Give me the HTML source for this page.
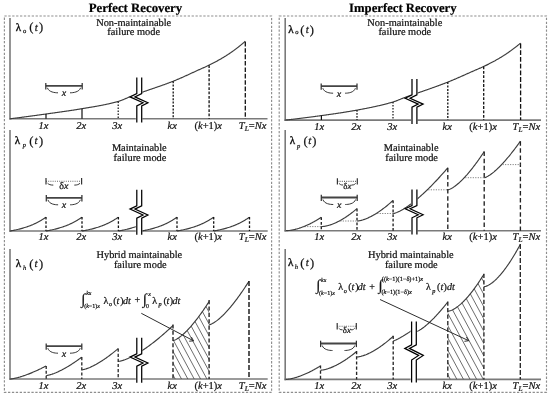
<!DOCTYPE html>
<html><head><meta charset="utf-8"><title>Perfect vs Imperfect Recovery</title>
<style>html,body{margin:0;padding:0;background:#fff;} svg{display:block;}</style>
</head><body>
<svg width="550" height="397" viewBox="0 0 550 397" font-family='"Liberation Serif", "Times New Roman", serif'>
<style>text{stroke:#111;stroke-width:0.22px;paint-order:stroke;text-rendering:geometricPrecision;}</style>
<rect width="550" height="397" fill="#fff"/>
<text x="135.5" y="11.6" font-size="12.8" text-anchor="middle" font-weight="bold" fill="#000">Perfect Recovery</text>
<text x="402.8" y="11.6" font-size="12.7" text-anchor="middle" font-weight="bold" fill="#000">Imperfect Recovery</text>
<rect x="4.4" y="16" width="267.20000000000005" height="376.3" fill="none" stroke="#8e8e8e" stroke-width="1.15" stroke-dasharray="2.3 1.6"/>
<rect x="279.2" y="16" width="267.3" height="376.3" fill="none" stroke="#8e8e8e" stroke-width="1.15" stroke-dasharray="2.3 1.6"/>
<line x1="10" y1="18" x2="10" y2="119.6" stroke="#7a7a7a" stroke-width="1.6" />
<line x1="9.2" y1="118.8" x2="267.5" y2="118.8" stroke="#7a7a7a" stroke-width="1.6" />
<path d="M10 118.8 L10.5 118.74 L11 118.67 L11.5 118.61 L12 118.55 L12.5 118.48 L13 118.42 L13.5 118.35 L14.01 118.29 L14.51 118.23 L15.01 118.16 L15.51 118.1 L16.01 118.03 L16.51 117.97 L17.01 117.9 L17.51 117.84 L18.01 117.77 L18.51 117.71 L19.01 117.64 L19.51 117.58 L20.01 117.51 L20.51 117.45 L21.01 117.38 L21.51 117.32 L22.02 117.25 L22.52 117.19 L23.02 117.12 L23.52 117.06 L24.02 116.99 L24.52 116.92 L25.02 116.86 L25.52 116.79 L26.02 116.72 L26.52 116.66 L27.02 116.59 L27.52 116.52 L28.02 116.46 L28.52 116.39 L29.02 116.32 L29.52 116.26 L30.03 116.19 L30.53 116.12 L31.03 116.06 L31.53 115.99 L32.03 115.92 L32.53 115.85 L33.03 115.79 L33.53 115.72 L34.03 115.65 L34.53 115.58 L35.03 115.51 L35.53 115.45 L36.03 115.38 L36.53 115.31 L37.03 115.24 L37.54 115.17 L38.04 115.1 L38.54 115.03 L39.04 114.97 L39.54 114.9 L40.04 114.83 L40.54 114.76 L41.04 114.69 L41.54 114.62 L42.04 114.55 L42.54 114.48 L43.04 114.41 L43.54 114.34 L44.04 114.27 L44.54 114.2 L45.04 114.13 L45.55 114.06 L46.05 113.99 L46.55 113.92 L47.05 113.85 L47.55 113.78 L48.05 113.71 L48.55 113.64 L49.05 113.57 L49.55 113.51 L50.05 113.44 L50.55 113.37 L51.05 113.3 L51.55 113.23 L52.05 113.16 L52.55 113.09 L53.05 113.02 L53.56 112.95 L54.06 112.88 L54.56 112.81 L55.06 112.74 L55.56 112.67 L56.06 112.6 L56.56 112.53 L57.06 112.46 L57.56 112.39 L58.06 112.32 L58.56 112.25 L59.06 112.18 L59.56 112.11 L60.06 112.04 L60.56 111.97 L61.07 111.9 L61.57 111.83 L62.07 111.76 L62.57 111.69 L63.07 111.62 L63.57 111.55 L64.07 111.47 L64.57 111.4 L65.07 111.33 L65.57 111.26 L66.07 111.18 L66.57 111.11 L67.07 111.04 L67.57 110.97 L68.07 110.89 L68.57 110.82 L69.08 110.74 L69.58 110.67 L70.08 110.59 L70.58 110.52 L71.08 110.44 L71.58 110.37 L72.08 110.29 L72.58 110.22 L73.08 110.14 L73.58 110.06 L74.08 109.98 L74.58 109.91 L75.08 109.83 L75.58 109.75 L76.08 109.67 L76.58 109.59 L77.09 109.51 L77.59 109.43 L78.09 109.35 L78.59 109.27 L79.09 109.19 L79.59 109.1 L80.09 109.02 L80.59 108.94 L81.09 108.85 L81.59 108.77 L82.09 108.68 L82.59 108.6 L83.09 108.52 L83.59 108.43 L84.09 108.35 L84.6 108.26 L85.1 108.18 L85.6 108.1 L86.1 108.01 L86.6 107.93 L87.1 107.84 L87.6 107.76 L88.1 107.68 L88.6 107.59 L89.1 107.51 L89.6 107.42 L90.1 107.34 L90.6 107.26 L91.1 107.17 L91.6 107.09 L92.1 107 L92.61 106.92 L93.11 106.83 L93.61 106.74 L94.11 106.66 L94.61 106.57 L95.11 106.48 L95.61 106.39 L96.11 106.31 L96.61 106.22 L97.11 106.13 L97.61 106.04 L98.11 105.95 L98.61 105.85 L99.11 105.76 L99.61 105.67 L100.11 105.57 L100.62 105.48 L101.12 105.38 L101.62 105.29 L102.12 105.19 L102.62 105.09 L103.12 105 L103.62 104.9 L104.12 104.79 L104.62 104.69 L105.12 104.59 L105.62 104.49 L106.12 104.38 L106.62 104.28 L107.12 104.17 L107.62 104.06 L108.13 103.95 L108.63 103.84 L109.13 103.73 L109.63 103.61 L110.13 103.5 L110.63 103.38 L111.13 103.27 L111.63 103.15 L112.13 103.03 L112.63 102.91 L113.13 102.78 L113.63 102.66 L114.13 102.53 L114.63 102.4 L115.13 102.27 L115.63 102.14 L116.14 102.01 L116.64 101.88 L117.14 101.74 L117.64 101.6 L118.14 101.46 L118.64 101.31 L119.14 101.16 L119.64 100.99 L120.14 100.82 L120.64 100.64 L121.14 100.45 L121.64 100.26 L122.14 100.07 L122.64 99.87 L123.14 99.66 L123.64 99.45 L124.15 99.24 L124.65 99.03 L125.15 98.81 L125.65 98.6 L126.15 98.39 L126.65 98.17 L127.15 97.96 L127.65 97.75 L128.15 97.54 L128.65 97.33 L129.15 97.13 L129.65 96.93 L130.15 96.74 L130.65 96.55 L131.15 96.36 L131.66 96.17 L132.16 95.98 L132.66 95.79 L133.16 95.6 L133.66 95.42 L134.16 95.23 L134.66 95.04 L135.16 94.85 L135.66 94.67 L136.16 94.48 L136.66 94.3 L137.16 94.11 L137.66 93.93 L138.16 93.74 L138.66 93.56 L139.16 93.37 L139.67 93.19 L140.17 93.01 L140.67 92.82 L141.17 92.64 L141.67 92.46 L142.17 92.28 L142.67 92.09 L143.17 91.91 L143.67 91.74 L144.17 91.56 L144.67 91.38 L145.17 91.2 L145.67 91.03 L146.17 90.85 L146.67 90.68 L147.17 90.5 L147.68 90.33 L148.18 90.15 L148.68 89.98 L149.18 89.81 L149.68 89.63 L150.18 89.46 L150.68 89.29 L151.18 89.12 L151.68 88.95 L152.18 88.78 L152.68 88.6 L153.18 88.43 L153.68 88.26 L154.18 88.09 L154.68 87.92 L155.19 87.75 L155.69 87.58 L156.19 87.4 L156.69 87.23 L157.19 87.06 L157.69 86.89 L158.19 86.71 L158.69 86.54 L159.19 86.37 L159.69 86.19 L160.19 86.02 L160.69 85.85 L161.19 85.67 L161.69 85.5 L162.19 85.32 L162.69 85.14 L163.2 84.96 L163.7 84.79 L164.2 84.61 L164.7 84.43 L165.2 84.25 L165.7 84.07 L166.2 83.88 L166.7 83.7 L167.2 83.52 L167.7 83.33 L168.2 83.14 L168.7 82.96 L169.2 82.77 L169.7 82.58 L170.2 82.39 L170.7 82.2 L171.21 82 L171.71 81.81 L172.21 81.61 L172.71 81.42 L173.21 81.22 L173.71 81.02 L174.21 80.82 L174.71 80.61 L175.21 80.41 L175.71 80.2 L176.21 79.99 L176.71 79.78 L177.21 79.57 L177.71 79.36 L178.21 79.15 L178.72 78.94 L179.22 78.72 L179.72 78.5 L180.22 78.29 L180.72 78.07 L181.22 77.85 L181.72 77.63 L182.22 77.41 L182.72 77.18 L183.22 76.96 L183.72 76.74 L184.22 76.51 L184.72 76.29 L185.22 76.06 L185.72 75.83 L186.22 75.61 L186.73 75.38 L187.23 75.15 L187.73 74.92 L188.23 74.69 L188.73 74.47 L189.23 74.24 L189.73 74.01 L190.23 73.78 L190.73 73.55 L191.23 73.31 L191.73 73.08 L192.23 72.85 L192.73 72.62 L193.23 72.39 L193.73 72.16 L194.23 71.93 L194.74 71.7 L195.24 71.47 L195.74 71.24 L196.24 71.01 L196.74 70.78 L197.24 70.55 L197.74 70.33 L198.24 70.1 L198.74 69.87 L199.24 69.64 L199.74 69.42 L200.24 69.19 L200.74 68.97 L201.24 68.74 L201.74 68.52 L202.25 68.3 L202.75 68.08 L203.25 67.86 L203.75 67.64 L204.25 67.41 L204.75 67.19 L205.25 66.97 L205.75 66.74 L206.25 66.51 L206.75 66.28 L207.25 66.05 L207.75 65.81 L208.25 65.57 L208.75 65.32 L209.25 65.07 L209.75 64.82 L210.26 64.57 L210.76 64.32 L211.26 64.06 L211.76 63.81 L212.26 63.55 L212.76 63.29 L213.26 63.03 L213.76 62.77 L214.26 62.51 L214.76 62.24 L215.26 61.98 L215.76 61.71 L216.26 61.44 L216.76 61.17 L217.26 60.89 L217.76 60.62 L218.27 60.34 L218.77 60.06 L219.27 59.78 L219.77 59.5 L220.27 59.21 L220.77 58.92 L221.27 58.63 L221.77 58.34 L222.27 58.05 L222.77 57.75 L223.27 57.45 L223.77 57.15 L224.27 56.85 L224.77 56.54 L225.27 56.23 L225.78 55.92 L226.28 55.6 L226.78 55.29 L227.28 54.97 L227.78 54.64 L228.28 54.32 L228.78 53.99 L229.28 53.66 L229.78 53.32 L230.28 52.98 L230.78 52.64 L231.28 52.29 L231.78 51.94 L232.28 51.58 L232.78 51.22 L233.28 50.86 L233.79 50.5 L234.29 50.13 L234.79 49.76 L235.29 49.39 L235.79 49.01 L236.29 48.63 L236.79 48.24 L237.29 47.86 L237.79 47.47 L238.29 47.08 L238.79 46.68 L239.29 46.28 L239.79 45.88 L240.29 45.48 L240.79 45.07 L241.29 44.66 L241.8 44.25 L242.3 43.84 L242.8 43.42 L243.3 43 L243.8 42.58 L244.3 42.15 L244.8 41.73 L245.3 41.3" fill="none" stroke="#3c3c3c" stroke-width="1.15" stroke-linejoin="round" />
<line x1="46" y1="114" x2="46" y2="118.8" stroke="#111" stroke-width="1.2" />
<line x1="82" y1="108.7" x2="82" y2="118.8" stroke="#111" stroke-width="1.2" />
<line x1="118.2" y1="101.44" x2="118.2" y2="118.8" stroke="#111" stroke-width="1.2" stroke-dasharray="1.6 1.4" />
<line x1="173.2" y1="81.22" x2="173.2" y2="118.8" stroke="#111" stroke-width="1.3" stroke-dasharray="2 1.4" />
<line x1="209.1" y1="65.15" x2="209.1" y2="118.8" stroke="#111" stroke-width="1.3" stroke-dasharray="2.8 1.6" />
<line x1="245.3" y1="41.8" x2="245.3" y2="118.8" stroke="#111" stroke-width="1.3" stroke-dasharray="4.6 1.8" />
<path d="M135.8 77.6 L142.4 77.6 L142.4 93.6 L148.4 102.8 L142.4 105.9 L142.4 122.6 L135.8 122.6 L135.8 105.9 L129.4 96.9 L135.8 93.6 Z" fill="#fff" stroke="none"/>
<path d="M136.8 77.6 L136.8 93.6 L130 96.9 L143 102.8 L136.8 105.9 L136.8 122.6" fill="none" stroke="#000" stroke-width="1.25" stroke-linejoin="miter"/>
<path d="M141.7 77.6 L141.7 93.6 L134.9 96.9 L147.9 102.8 L141.7 105.9 L141.7 122.6" fill="none" stroke="#000" stroke-width="1.25" stroke-linejoin="miter"/>
<line x1="45.8" y1="85.8" x2="82.2" y2="85.8" stroke="#444" stroke-width="1.8" />
<line x1="45.8" y1="83" x2="45.8" y2="89.4" stroke="#333" stroke-width="1.25" />
<line x1="82.2" y1="83" x2="82.2" y2="89.4" stroke="#333" stroke-width="1.25" />
<path d="M47.4 87.8 C48.8 92.2 55 92.8 58 92.8" fill="none" stroke="#2a2a2a" stroke-width="0.95"/>
<path d="M80.6 87.8 C79.2 92.2 73 92.8 70 92.8" fill="none" stroke="#2a2a2a" stroke-width="0.95"/>
<text x="64" y="96.3" font-size="10" font-style="italic" text-anchor="middle" fill="#111">x</text>
<text font-size="11" fill="#111"><tspan x="15.8" y="30.7" style="stroke-width:0.38px">λ</tspan><tspan x="23" y="32.9" font-size="6.5" font-style="italic">o</tspan><tspan x="29.2" y="30.9" font-size="12.5">(</tspan><tspan x="34.7" y="30.7" font-style="italic">t</tspan><tspan x="39.1" y="30.9" font-size="12.5">)</tspan></text>
<text x="133.7" y="25.8" font-size="10.4" text-anchor="middle" fill="#111">Non-maintainable</text>
<text x="133.7" y="35" font-size="10.4" text-anchor="middle" fill="#111">failure mode</text>
<text x="38.6" y="128.6" font-size="10.5" fill="#111"><tspan font-style="italic">1x</tspan></text>
<text x="76.2" y="128.6" font-size="10.5" fill="#111"><tspan font-style="italic">2x</tspan></text>
<text x="112.2" y="128.6" font-size="10.5" fill="#111"><tspan font-style="italic">3x</tspan></text>
<text x="167.6" y="128.6" font-size="10.5" fill="#111"><tspan font-style="italic">kx</tspan></text>
<text x="194.5" y="128.6" font-size="10.5" fill="#111">(<tspan font-style="italic">k</tspan>+1)<tspan font-style="italic">x</tspan></text>
<text x="238.8" y="128.6" font-size="10.5" fill="#111"><tspan font-style="italic">T</tspan><tspan font-style="italic" font-size="7.3" dy="2">L</tspan><tspan dy="-2">=</tspan><tspan font-style="italic">Nx</tspan></text>
<line x1="10" y1="130" x2="10" y2="231.8" stroke="#7a7a7a" stroke-width="1.6" />
<line x1="9.2" y1="231" x2="267.7" y2="231" stroke="#7a7a7a" stroke-width="1.6" />
<path d="M10 231 L10.92 230.84 L11.85 230.67 L12.77 230.5 L13.69 230.32 L14.62 230.13 L15.54 229.94 L16.46 229.73 L17.38 229.52 L18.31 229.31 L19.23 229.08 L20.15 228.85 L21.08 228.6 L22 228.35 L22.92 228.09 L23.85 227.82 L24.77 227.54 L25.69 227.25 L26.62 226.94 L27.54 226.63 L28.46 226.3 L29.38 225.96 L30.31 225.61 L31.23 225.24 L32.15 224.86 L33.08 224.47 L34 224.06 L34.92 223.64 L35.85 223.2 L36.77 222.74 L37.69 222.26 L38.62 221.77 L39.54 221.26 L40.46 220.73 L41.38 220.18 L42.31 219.61 L43.23 219.02 L44.15 218.4 L45.08 217.76 L46 217.1" fill="none" stroke="#3c3c3c" stroke-width="1.15" stroke-linejoin="round" />
<line x1="46" y1="217.1" x2="46" y2="231" stroke="#111" stroke-width="1.3" stroke-dasharray="2.5 1.7" />
<path d="M46 231 L46.92 230.84 L47.85 230.67 L48.77 230.5 L49.69 230.32 L50.62 230.13 L51.54 229.94 L52.46 229.73 L53.38 229.52 L54.31 229.31 L55.23 229.08 L56.15 228.85 L57.08 228.6 L58 228.35 L58.92 228.09 L59.85 227.82 L60.77 227.54 L61.69 227.25 L62.62 226.94 L63.54 226.63 L64.46 226.3 L65.38 225.96 L66.31 225.61 L67.23 225.24 L68.15 224.86 L69.08 224.47 L70 224.06 L70.92 223.64 L71.85 223.2 L72.77 222.74 L73.69 222.26 L74.62 221.77 L75.54 221.26 L76.46 220.73 L77.38 220.18 L78.31 219.61 L79.23 219.02 L80.15 218.4 L81.08 217.76 L82 217.1" fill="none" stroke="#3c3c3c" stroke-width="1.15" stroke-linejoin="round" />
<line x1="82" y1="217.1" x2="82" y2="231" stroke="#111" stroke-width="1.3" stroke-dasharray="2.5 1.7" />
<path d="M82 231 L82.93 230.84 L83.87 230.67 L84.8 230.5 L85.73 230.32 L86.67 230.13 L87.6 229.94 L88.53 229.73 L89.47 229.52 L90.4 229.31 L91.33 229.08 L92.27 228.85 L93.2 228.6 L94.13 228.35 L95.07 228.09 L96 227.82 L96.93 227.54 L97.87 227.25 L98.8 226.94 L99.73 226.63 L100.67 226.3 L101.6 225.96 L102.53 225.61 L103.47 225.24 L104.4 224.86 L105.33 224.47 L106.27 224.06 L107.2 223.64 L108.13 223.2 L109.07 222.74 L110 222.26 L110.93 221.77 L111.87 221.26 L112.8 220.73 L113.73 220.18 L114.67 219.61 L115.6 219.02 L116.53 218.4 L117.47 217.76 L118.4 217.1" fill="none" stroke="#3c3c3c" stroke-width="1.15" stroke-linejoin="round" />
<line x1="118.4" y1="217.1" x2="118.4" y2="231" stroke="#111" stroke-width="1.3" stroke-dasharray="2.5 1.7" />
<path d="M141.4 231 L142.31 230.84 L143.23 230.67 L144.14 230.5 L145.05 230.32 L145.96 230.13 L146.88 229.94 L147.79 229.73 L148.7 229.52 L149.62 229.31 L150.53 229.08 L151.44 228.85 L152.35 228.6 L153.27 228.35 L154.18 228.09 L155.09 227.82 L156.01 227.54 L156.92 227.25 L157.83 226.94 L158.74 226.63 L159.66 226.3 L160.57 225.96 L161.48 225.61 L162.39 225.24 L163.31 224.86 L164.22 224.47 L165.13 224.06 L166.05 223.64 L166.96 223.2 L167.87 222.74 L168.78 222.26 L169.7 221.77 L170.61 221.26 L171.52 220.73 L172.44 220.18 L173.35 219.61 L174.26 219.02 L175.17 218.4 L176.09 217.76 L177 217.1" fill="none" stroke="#3c3c3c" stroke-width="1.15" stroke-linejoin="round" />
<line x1="177" y1="217.1" x2="177" y2="231" stroke="#111" stroke-width="1.3" stroke-dasharray="2.5 1.7" />
<path d="M177 231 L177.94 230.84 L178.88 230.67 L179.82 230.5 L180.76 230.32 L181.71 230.13 L182.65 229.94 L183.59 229.73 L184.53 229.52 L185.47 229.31 L186.41 229.08 L187.35 228.85 L188.29 228.6 L189.23 228.35 L190.17 228.09 L191.12 227.82 L192.06 227.54 L193 227.25 L193.94 226.94 L194.88 226.63 L195.82 226.3 L196.76 225.96 L197.7 225.61 L198.64 225.24 L199.58 224.86 L200.53 224.47 L201.47 224.06 L202.41 223.64 L203.35 223.2 L204.29 222.74 L205.23 222.26 L206.17 221.77 L207.11 221.26 L208.05 220.73 L208.99 220.18 L209.94 219.61 L210.88 219.02 L211.82 218.4 L212.76 217.76 L213.7 217.1" fill="none" stroke="#3c3c3c" stroke-width="1.15" stroke-linejoin="round" />
<line x1="213.7" y1="217.1" x2="213.7" y2="231" stroke="#111" stroke-width="1.3" stroke-dasharray="2.5 1.7" />
<path d="M213.7 231 L214.62 230.84 L215.54 230.67 L216.45 230.5 L217.37 230.32 L218.29 230.13 L219.21 229.94 L220.13 229.73 L221.04 229.52 L221.96 229.31 L222.88 229.08 L223.8 228.85 L224.72 228.6 L225.63 228.35 L226.55 228.09 L227.47 227.82 L228.39 227.54 L229.31 227.25 L230.22 226.94 L231.14 226.63 L232.06 226.3 L232.98 225.96 L233.89 225.61 L234.81 225.24 L235.73 224.86 L236.65 224.47 L237.57 224.06 L238.48 223.64 L239.4 223.2 L240.32 222.74 L241.24 222.26 L242.16 221.77 L243.07 221.26 L243.99 220.73 L244.91 220.18 L245.83 219.61 L246.75 219.02 L247.66 218.4 L248.58 217.76 L249.5 217.1" fill="none" stroke="#3c3c3c" stroke-width="1.15" stroke-linejoin="round" />
<line x1="249.5" y1="217.1" x2="249.5" y2="231" stroke="#111" stroke-width="1.3" stroke-dasharray="2.5 1.7" />
<path d="M118.4 231 L119.32 230.84 L120.25 230.67 L121.17 230.5 L122.09 230.32 L123.02 230.13 L123.94 229.94 L124.86 229.73 L125.78 229.52 L126.71 229.31 L127.63 229.08 L128.55 228.85 L129.48 228.6 L130.4 228.35 L131.32 228.09 L132.25 227.82 L133.17 227.54 L134.09 227.25 L135.02 226.94 L135.94 226.63" fill="none" stroke="#3c3c3c" stroke-width="1.15" stroke-linejoin="round" />
<path d="M135.8 189.8 L142.4 189.8 L142.4 205.8 L148.4 215 L142.4 218.1 L142.4 234.8 L135.8 234.8 L135.8 218.1 L129.4 209.1 L135.8 205.8 Z" fill="#fff" stroke="none"/>
<path d="M136.8 189.8 L136.8 205.8 L130 209.1 L143 215 L136.8 218.1 L136.8 234.8" fill="none" stroke="#000" stroke-width="1.25" stroke-linejoin="miter"/>
<path d="M141.7 189.8 L141.7 205.8 L134.9 209.1 L147.9 215 L141.7 218.1 L141.7 234.8" fill="none" stroke="#000" stroke-width="1.25" stroke-linejoin="miter"/>
<line x1="46" y1="181.3" x2="81.6" y2="181.3" stroke="#666" stroke-width="1.1" stroke-dasharray="1 1.2" />
<line x1="46" y1="178.1" x2="46" y2="184.5" stroke="#333" stroke-width="1.2" />
<line x1="81.6" y1="178.1" x2="81.6" y2="184.5" stroke="#333" stroke-width="1.2" />
<path d="M47.6 183.3 C49 184.5 50.3 185.1 53.3 185.1" fill="none" stroke="#2a2a2a" stroke-width="0.95"/>
<path d="M80 183.3 C78.6 184.5 77.3 185.1 74.3 185.1" fill="none" stroke="#2a2a2a" stroke-width="0.95"/>
<text x="63.8" y="189.3" font-size="10" text-anchor="middle" fill="#111">δ<tspan font-style="italic">x</tspan></text>
<line x1="46.3" y1="197.8" x2="81.9" y2="197.8" stroke="#444" stroke-width="1.8" />
<line x1="46.3" y1="195" x2="46.3" y2="201.4" stroke="#333" stroke-width="1.25" />
<line x1="81.9" y1="195" x2="81.9" y2="201.4" stroke="#333" stroke-width="1.25" />
<path d="M47.9 199.8 C49.3 204.2 55.1 204.8 58.1 204.8" fill="none" stroke="#2a2a2a" stroke-width="0.95"/>
<path d="M80.3 199.8 C78.9 204.2 73.1 204.8 70.1 204.8" fill="none" stroke="#2a2a2a" stroke-width="0.95"/>
<text x="64.1" y="208.3" font-size="10" font-style="italic" text-anchor="middle" fill="#111">x</text>
<text font-size="11" fill="#111"><tspan x="14.7" y="144" style="stroke-width:0.38px">λ</tspan><tspan x="22.7" y="147.4" font-size="6.5" font-style="italic">p</tspan><tspan x="29.2" y="144.9" font-size="12.5">(</tspan><tspan x="34.4" y="144" font-style="italic">t</tspan><tspan x="39.1" y="144.9" font-size="12.5">)</tspan></text>
<text x="139.3" y="151" font-size="10.4" text-anchor="middle" fill="#111">Maintainable</text>
<text x="140" y="160.8" font-size="10.4" text-anchor="middle" fill="#111">failure mode</text>
<text x="38.6" y="239.8" font-size="10.5" fill="#111"><tspan font-style="italic">1x</tspan></text>
<text x="76.2" y="239.8" font-size="10.5" fill="#111"><tspan font-style="italic">2x</tspan></text>
<text x="112.2" y="239.8" font-size="10.5" fill="#111"><tspan font-style="italic">3x</tspan></text>
<text x="167.6" y="239.8" font-size="10.5" fill="#111"><tspan font-style="italic">kx</tspan></text>
<text x="194.5" y="239.8" font-size="10.5" fill="#111">(<tspan font-style="italic">k</tspan>+1)<tspan font-style="italic">x</tspan></text>
<text x="238.8" y="239.8" font-size="10.5" fill="#111"><tspan font-style="italic">T</tspan><tspan font-style="italic" font-size="7.3" dy="2">L</tspan><tspan dy="-2">=</tspan><tspan font-style="italic">Nx</tspan></text>
<line x1="10" y1="249" x2="10" y2="379.8" stroke="#7a7a7a" stroke-width="1.6" />
<line x1="9.2" y1="379" x2="267.7" y2="379" stroke="#7a7a7a" stroke-width="1.6" />
<clipPath id="hbl"><path d="M173 379 L173 340.5 L173.61 340.39 L174.22 340.21 L174.84 339.98 L175.45 339.71 L176.06 339.41 L176.67 339.08 L177.28 338.73 L177.89 338.35 L178.51 337.95 L179.12 337.53 L179.73 337.09 L180.34 336.63 L180.95 336.15 L181.57 335.66 L182.18 335.15 L182.79 334.62 L183.4 334.08 L184.01 333.53 L184.63 332.96 L185.24 332.38 L185.85 331.78 L186.46 331.17 L187.07 330.55 L187.68 329.92 L188.3 329.27 L188.91 328.61 L189.52 327.95 L190.13 327.27 L190.74 326.57 L191.36 325.87 L191.97 325.16 L192.58 324.44 L193.19 323.71 L193.8 322.96 L194.42 322.21 L195.03 321.45 L195.64 320.67 L196.25 319.89 L196.86 319.1 L197.47 318.3 L198.09 317.49 L198.7 316.67 L199.31 315.85 L199.92 315.01 L200.53 314.17 L201.15 313.32 L201.76 312.45 L202.37 311.58 L202.98 310.71 L203.59 309.82 L204.21 308.93 L204.82 308.03 L205.43 307.12 L206.04 306.2 L206.65 305.27 L207.26 304.34 L207.88 303.4 L208.49 302.45 L209.1 301.5 L209.1 379 Z"/></clipPath>
<path d="M44.58 301.5 L86.25 379 M50.93 301.5 L92.6 379 M57.28 301.5 L98.95 379 M63.63 301.5 L105.3 379 M69.98 301.5 L111.65 379 M76.33 301.5 L118 379 M82.68 301.5 L124.35 379 M89.03 301.5 L130.7 379 M95.38 301.5 L137.05 379 M101.73 301.5 L143.4 379 M108.08 301.5 L149.75 379 M114.43 301.5 L156.1 379 M120.78 301.5 L162.45 379 M127.13 301.5 L168.8 379 M133.48 301.5 L175.15 379 M139.83 301.5 L181.5 379 M146.18 301.5 L187.85 379 M152.53 301.5 L194.2 379 M158.88 301.5 L200.55 379 M165.23 301.5 L206.9 379 M171.58 301.5 L213.25 379 M177.93 301.5 L219.6 379 M184.28 301.5 L225.95 379 M190.63 301.5 L232.3 379 M196.98 301.5 L238.65 379 M203.33 301.5 L245 379 M209.68 301.5 L251.35 379 M216.03 301.5 L257.7 379 M222.38 301.5 L264.05 379 M228.73 301.5 L270.4 379" stroke="#484848" stroke-width="0.8" fill="none" clip-path="url(#hbl)"/>
<path d="M10 379 L10.61 378.96 L11.23 378.9 L11.84 378.83 L12.45 378.74 L13.07 378.63 L13.68 378.52 L14.29 378.4 L14.91 378.28 L15.52 378.14 L16.14 378 L16.75 377.85 L17.36 377.7 L17.98 377.54 L18.59 377.37 L19.2 377.2 L19.82 377.03 L20.43 376.84 L21.04 376.66 L21.66 376.47 L22.27 376.27 L22.88 376.07 L23.5 375.87 L24.11 375.66 L24.73 375.44 L25.34 375.23 L25.95 375.01 L26.57 374.78 L27.18 374.55 L27.79 374.32 L28.41 374.09 L29.02 373.85 L29.63 373.6 L30.25 373.36 L30.86 373.11 L31.47 372.86 L32.09 372.6 L32.7 372.34 L33.32 372.08 L33.93 371.81 L34.54 371.54 L35.16 371.27 L35.77 371 L36.38 370.72 L37 370.44 L37.61 370.16 L38.22 369.87 L38.84 369.58 L39.45 369.29 L40.06 368.99 L40.68 368.7 L41.29 368.39 L41.91 368.09 L42.52 367.79 L43.13 367.48 L43.75 367.17 L44.36 366.85 L44.97 366.54 L45.59 366.22 L46.2 365.9" fill="none" stroke="#3c3c3c" stroke-width="1.15" stroke-linejoin="round" />
<path d="M46.2 375.5 L46.8 375.45 L47.41 375.36 L48.01 375.26 L48.61 375.13 L49.22 374.99 L49.82 374.83 L50.42 374.66 L51.03 374.48 L51.63 374.3 L52.23 374.1 L52.84 373.89 L53.44 373.67 L54.04 373.45 L54.65 373.21 L55.25 372.97 L55.85 372.73 L56.46 372.47 L57.06 372.21 L57.66 371.94 L58.27 371.67 L58.87 371.39 L59.47 371.1 L60.08 370.81 L60.68 370.51 L61.28 370.2 L61.89 369.89 L62.49 369.58 L63.09 369.26 L63.7 368.93 L64.3 368.6 L64.91 368.26 L65.51 367.92 L66.11 367.58 L66.72 367.23 L67.32 366.87 L67.92 366.51 L68.53 366.15 L69.13 365.78 L69.73 365.4 L70.34 365.03 L70.94 364.65 L71.54 364.26 L72.15 363.87 L72.75 363.47 L73.35 363.08 L73.96 362.67 L74.56 362.27 L75.16 361.86 L75.77 361.44 L76.37 361.03 L76.97 360.6 L77.58 360.18 L78.18 359.75 L78.78 359.32 L79.39 358.88 L79.99 358.44 L80.59 358 L81.2 357.55 L81.8 357.1" fill="none" stroke="#3c3c3c" stroke-width="1.15" stroke-linejoin="round" />
<path d="M81.8 369.8 L82.42 369.74 L83.03 369.64 L83.65 369.52 L84.27 369.37 L84.88 369.21 L85.5 369.03 L86.12 368.84 L86.74 368.63 L87.35 368.41 L87.97 368.18 L88.59 367.94 L89.2 367.69 L89.82 367.44 L90.44 367.17 L91.05 366.89 L91.67 366.6 L92.29 366.31 L92.91 366.01 L93.52 365.7 L94.14 365.38 L94.76 365.06 L95.37 364.73 L95.99 364.39 L96.61 364.05 L97.22 363.7 L97.84 363.34 L98.46 362.98 L99.07 362.61 L99.69 362.23 L100.31 361.85 L100.93 361.46 L101.54 361.07 L102.16 360.67 L102.78 360.27 L103.39 359.86 L104.01 359.44 L104.63 359.02 L105.24 358.6 L105.86 358.17 L106.48 357.73 L107.09 357.29 L107.71 356.85 L108.33 356.4 L108.95 355.94 L109.56 355.49 L110.18 355.02 L110.8 354.55 L111.41 354.08 L112.03 353.6 L112.65 353.12 L113.26 352.64 L113.88 352.15 L114.5 351.65 L115.12 351.15 L115.73 350.65 L116.35 350.14 L116.97 349.63 L117.58 349.12 L118.2 348.6" fill="none" stroke="#3c3c3c" stroke-width="1.15" stroke-linejoin="round" />
<path d="M118.2 361.4 L119.13 361.3 L120.06 361.13 L120.99 360.92 L121.92 360.67 L122.84 360.4 L123.77 360.09 L124.7 359.77 L125.63 359.42 L126.56 359.05 L127.49 358.66 L128.42 358.26 L129.35 357.83 L130.27 357.4 L131.2 356.94 L132.13 356.47 L133.06 355.99 L133.99 355.49 L134.92 354.98 L135.85 354.46 L136.78 353.92 L137.71 353.37 L138.63 352.81 L139.56 352.24 L140.49 351.66 L141.42 351.06 L142.35 350.46 L143.28 349.84 L144.21 349.22 L145.14 348.58 L146.06 347.94 L146.99 347.28 L147.92 346.61 L148.85 345.94 L149.78 345.26 L150.71 344.56 L151.64 343.86 L152.57 343.15 L153.49 342.43 L154.42 341.7 L155.35 340.97 L156.28 340.22 L157.21 339.47 L158.14 338.71 L159.07 337.94 L160 337.16 L160.93 336.38 L161.85 335.58 L162.78 334.78 L163.71 333.98 L164.64 333.16 L165.57 332.34 L166.5 331.51 L167.43 330.67 L168.36 329.83 L169.28 328.97 L170.21 328.12 L171.14 327.25 L172.07 326.38 L173 325.5" fill="none" stroke="#3c3c3c" stroke-width="1.15" stroke-linejoin="round" />
<path d="M173 340.5 L173.61 340.39 L174.22 340.21 L174.84 339.98 L175.45 339.71 L176.06 339.41 L176.67 339.08 L177.28 338.73 L177.89 338.35 L178.51 337.95 L179.12 337.53 L179.73 337.09 L180.34 336.63 L180.95 336.15 L181.57 335.66 L182.18 335.15 L182.79 334.62 L183.4 334.08 L184.01 333.53 L184.63 332.96 L185.24 332.38 L185.85 331.78 L186.46 331.17 L187.07 330.55 L187.68 329.92 L188.3 329.27 L188.91 328.61 L189.52 327.95 L190.13 327.27 L190.74 326.57 L191.36 325.87 L191.97 325.16 L192.58 324.44 L193.19 323.71 L193.8 322.96 L194.42 322.21 L195.03 321.45 L195.64 320.67 L196.25 319.89 L196.86 319.1 L197.47 318.3 L198.09 317.49 L198.7 316.67 L199.31 315.85 L199.92 315.01 L200.53 314.17 L201.15 313.32 L201.76 312.45 L202.37 311.58 L202.98 310.71 L203.59 309.82 L204.21 308.93 L204.82 308.03 L205.43 307.12 L206.04 306.2 L206.65 305.27 L207.26 304.34 L207.88 303.4 L208.49 302.45 L209.1 301.5" fill="none" stroke="#3c3c3c" stroke-width="1.15" stroke-linejoin="round" />
<path d="M209.1 324.7 L209.78 324.58 L210.45 324.38 L211.13 324.12 L211.81 323.82 L212.48 323.49 L213.16 323.12 L213.83 322.72 L214.51 322.3 L215.19 321.85 L215.86 321.38 L216.54 320.89 L217.22 320.38 L217.89 319.85 L218.57 319.3 L219.24 318.73 L219.92 318.14 L220.6 317.54 L221.27 316.92 L221.95 316.29 L222.63 315.64 L223.3 314.97 L223.98 314.29 L224.65 313.6 L225.33 312.9 L226.01 312.18 L226.68 311.44 L227.36 310.7 L228.04 309.94 L228.71 309.17 L229.39 308.39 L230.06 307.59 L230.74 306.78 L231.42 305.97 L232.09 305.14 L232.77 304.3 L233.45 303.45 L234.12 302.59 L234.8 301.72 L235.47 300.83 L236.15 299.94 L236.83 299.04 L237.5 298.13 L238.18 297.2 L238.86 296.27 L239.53 295.33 L240.21 294.38 L240.88 293.42 L241.56 292.45 L242.24 291.47 L242.91 290.48 L243.59 289.48 L244.27 288.48 L244.94 287.46 L245.62 286.44 L246.29 285.41 L246.97 284.37 L247.65 283.32 L248.32 282.26 L249 281.2" fill="none" stroke="#3c3c3c" stroke-width="1.15" stroke-linejoin="round" />
<line x1="46.2" y1="365.9" x2="46.2" y2="379" stroke="#262626" stroke-width="1.3" stroke-dasharray="3 1.9" />
<line x1="81.8" y1="357.1" x2="81.8" y2="379" stroke="#262626" stroke-width="1.3" stroke-dasharray="3.2 1.9" />
<line x1="118.2" y1="348.6" x2="118.2" y2="379" stroke="#262626" stroke-width="1.3" stroke-dasharray="3.2 1.9" />
<line x1="173" y1="324.6" x2="173" y2="379" stroke="#262626" stroke-width="1.4" stroke-dasharray="4 2.2" />
<line x1="209.1" y1="300" x2="209.1" y2="379" stroke="#262626" stroke-width="1.4" stroke-dasharray="4.2 2.2" />
<line x1="249" y1="281" x2="249" y2="379" stroke="#111" stroke-width="1.4" stroke-dasharray="5 2" />
<path d="M135.8 337.8 L142.4 337.8 L142.4 353.8 L148.4 363 L142.4 366.1 L142.4 382.8 L135.8 382.8 L135.8 366.1 L129.4 357.1 L135.8 353.8 Z" fill="#fff" stroke="none"/>
<path d="M136.8 337.8 L136.8 353.8 L130 357.1 L143 363 L136.8 366.1 L136.8 382.8" fill="none" stroke="#000" stroke-width="1.25" stroke-linejoin="miter"/>
<path d="M141.7 337.8 L141.7 353.8 L134.9 357.1 L147.9 363 L141.7 366.1 L141.7 382.8" fill="none" stroke="#000" stroke-width="1.25" stroke-linejoin="miter"/>
<line x1="46.2" y1="346.2" x2="81.8" y2="346.2" stroke="#444" stroke-width="1.8" />
<line x1="46.2" y1="343.4" x2="46.2" y2="349.8" stroke="#333" stroke-width="1.25" />
<line x1="81.8" y1="343.4" x2="81.8" y2="349.8" stroke="#333" stroke-width="1.25" />
<path d="M47.8 348.2 C49.2 352.6 55 353.2 58 353.2" fill="none" stroke="#2a2a2a" stroke-width="0.95"/>
<path d="M80.2 348.2 C78.8 352.6 73 353.2 70 353.2" fill="none" stroke="#2a2a2a" stroke-width="0.95"/>
<text x="64" y="356.7" font-size="10" font-style="italic" text-anchor="middle" fill="#111">x</text>
<text font-size="11" fill="#111"><tspan x="15.8" y="267" style="stroke-width:0.38px">λ</tspan><tspan x="23.1" y="269.9" font-size="6.5" font-style="italic">h</tspan><tspan x="29.2" y="267.9" font-size="12.5">(</tspan><tspan x="34.4" y="267" font-style="italic">t</tspan><tspan x="39.1" y="267.9" font-size="12.5">)</tspan></text>
<text x="139.3" y="258.4" font-size="10.4" text-anchor="middle" fill="#111">Hybrid maintainable</text>
<text x="140.3" y="267.8" font-size="10.4" text-anchor="middle" fill="#111">failure mode</text>
<text x="38.6" y="389.4" font-size="10.5" fill="#111"><tspan font-style="italic">1x</tspan></text>
<text x="76.2" y="389.4" font-size="10.5" fill="#111"><tspan font-style="italic">2x</tspan></text>
<text x="112.2" y="389.4" font-size="10.5" fill="#111"><tspan font-style="italic">3x</tspan></text>
<text x="167.6" y="389.4" font-size="10.5" fill="#111"><tspan font-style="italic">kx</tspan></text>
<text x="194.5" y="389.4" font-size="10.5" fill="#111">(<tspan font-style="italic">k</tspan>+1)<tspan font-style="italic">x</tspan></text>
<text x="238.8" y="389.4" font-size="10.5" fill="#111"><tspan font-style="italic">T</tspan><tspan font-style="italic" font-size="7.3" dy="2">L</tspan><tspan dy="-2">=</tspan><tspan font-style="italic">Nx</tspan></text>
<text x="81.3" y="303.8" font-size="15" fill="#111">∫</text>
<text x="86.2" y="295.2" font-size="5.8" fill="#111"><tspan font-style="italic">kx</tspan></text>
<text x="84.2" y="308.2" font-size="6.0" fill="#111">(<tspan font-style="italic">k</tspan>−1)<tspan font-style="italic">x</tspan></text>
<text x="103.4" y="303.8" font-size="10" fill="#111">λ</text>
<text x="108.9" y="306" font-size="6.2" font-style="italic" fill="#111">o</text>
<text x="113.3" y="303.8" font-size="10" fill="#111">(</text>
<text x="116.6" y="303.8" font-size="10" font-style="italic" fill="#111">t</text>
<text x="120.3" y="303.8" font-size="10" fill="#111">)</text>
<text x="122.9" y="303.8" font-size="10" font-style="italic" fill="#111">dt</text>
<text x="134.4" y="303.3" font-size="10" fill="#111">+</text>
<text x="142.8" y="303.8" font-size="15" fill="#111">∫</text>
<text x="148.3" y="296" font-size="6.0" fill="#111"><tspan font-style="italic">x</tspan></text>
<text x="145.9" y="308.2" font-size="6.0" fill="#111">0</text>
<text x="152.3" y="303.8" font-size="10" fill="#111">λ</text>
<text x="158.6" y="306" font-size="6.2" font-style="italic" fill="#111">p</text>
<text x="163.4" y="303.8" font-size="10" fill="#111">(</text>
<text x="166.5" y="303.8" font-size="10" font-style="italic" fill="#111">t</text>
<text x="169.8" y="303.8" font-size="10" fill="#111">)</text>
<text x="172.6" y="303.8" font-size="10" font-style="italic" fill="#111">dt</text>
<line x1="141.3" y1="313.3" x2="193.5" y2="340.8" stroke="#222" stroke-width="0.95" />
<line x1="193.5" y1="340.8" x2="191.4" y2="337.05" stroke="#222" stroke-width="0.95" />
<line x1="193.5" y1="340.8" x2="189.22" y2="341.19" stroke="#222" stroke-width="0.95" />
<line x1="285.2" y1="18" x2="285.2" y2="120.9" stroke="#7a7a7a" stroke-width="1.6" />
<line x1="284.4" y1="120.1" x2="541" y2="120.1" stroke="#7a7a7a" stroke-width="1.6" />
<path d="M285.2 120.1 L285.7 120.05 L286.2 119.99 L286.7 119.94 L287.2 119.88 L287.7 119.82 L288.21 119.77 L288.71 119.71 L289.21 119.66 L289.71 119.6 L290.21 119.54 L290.71 119.48 L291.21 119.43 L291.71 119.37 L292.21 119.31 L292.71 119.25 L293.21 119.2 L293.71 119.14 L294.22 119.08 L294.72 119.02 L295.22 118.96 L295.72 118.9 L296.22 118.84 L296.72 118.78 L297.22 118.72 L297.72 118.66 L298.22 118.6 L298.72 118.54 L299.22 118.48 L299.72 118.42 L300.23 118.36 L300.73 118.3 L301.23 118.24 L301.73 118.18 L302.23 118.11 L302.73 118.05 L303.23 117.99 L303.73 117.93 L304.23 117.86 L304.73 117.8 L305.23 117.74 L305.73 117.67 L306.24 117.61 L306.74 117.55 L307.24 117.48 L307.74 117.42 L308.24 117.35 L308.74 117.29 L309.24 117.23 L309.74 117.16 L310.24 117.1 L310.74 117.03 L311.24 116.96 L311.75 116.9 L312.25 116.83 L312.75 116.77 L313.25 116.7 L313.75 116.63 L314.25 116.57 L314.75 116.5 L315.25 116.43 L315.75 116.37 L316.25 116.3 L316.75 116.23 L317.25 116.17 L317.76 116.1 L318.26 116.03 L318.76 115.96 L319.26 115.89 L319.76 115.83 L320.26 115.76 L320.76 115.69 L321.26 115.62 L321.76 115.55 L322.26 115.48 L322.76 115.41 L323.26 115.34 L323.77 115.27 L324.27 115.2 L324.77 115.13 L325.27 115.06 L325.77 114.99 L326.27 114.92 L326.77 114.85 L327.27 114.78 L327.77 114.71 L328.27 114.64 L328.77 114.57 L329.27 114.5 L329.78 114.43 L330.28 114.36 L330.78 114.29 L331.28 114.22 L331.78 114.14 L332.28 114.07 L332.78 114 L333.28 113.93 L333.78 113.86 L334.28 113.78 L334.78 113.71 L335.29 113.64 L335.79 113.56 L336.29 113.49 L336.79 113.41 L337.29 113.34 L337.79 113.26 L338.29 113.19 L338.79 113.11 L339.29 113.04 L339.79 112.96 L340.29 112.89 L340.79 112.81 L341.3 112.73 L341.8 112.65 L342.3 112.58 L342.8 112.5 L343.3 112.42 L343.8 112.34 L344.3 112.26 L344.8 112.18 L345.3 112.1 L345.8 112.02 L346.3 111.94 L346.8 111.86 L347.31 111.78 L347.81 111.69 L348.31 111.61 L348.81 111.53 L349.31 111.45 L349.81 111.36 L350.31 111.28 L350.81 111.19 L351.31 111.11 L351.81 111.02 L352.31 110.93 L352.81 110.85 L353.32 110.76 L353.82 110.67 L354.32 110.58 L354.82 110.49 L355.32 110.4 L355.82 110.31 L356.32 110.22 L356.82 110.13 L357.32 110.04 L357.82 109.95 L358.32 109.86 L358.83 109.76 L359.33 109.67 L359.83 109.58 L360.33 109.49 L360.83 109.39 L361.33 109.3 L361.83 109.2 L362.33 109.11 L362.83 109.02 L363.33 108.92 L363.83 108.83 L364.33 108.73 L364.84 108.63 L365.34 108.54 L365.84 108.44 L366.34 108.34 L366.84 108.24 L367.34 108.14 L367.84 108.05 L368.34 107.95 L368.84 107.85 L369.34 107.74 L369.84 107.64 L370.34 107.54 L370.85 107.44 L371.35 107.33 L371.85 107.23 L372.35 107.13 L372.85 107.02 L373.35 106.91 L373.85 106.81 L374.35 106.7 L374.85 106.59 L375.35 106.48 L375.85 106.37 L376.35 106.26 L376.86 106.15 L377.36 106.04 L377.86 105.92 L378.36 105.81 L378.86 105.7 L379.36 105.58 L379.86 105.46 L380.36 105.34 L380.86 105.23 L381.36 105.11 L381.86 104.98 L382.37 104.86 L382.87 104.74 L383.37 104.62 L383.87 104.49 L384.37 104.36 L384.87 104.24 L385.37 104.11 L385.87 103.98 L386.37 103.85 L386.87 103.72 L387.37 103.58 L387.87 103.45 L388.38 103.31 L388.88 103.18 L389.38 103.04 L389.88 102.9 L390.38 102.76 L390.88 102.62 L391.38 102.47 L391.88 102.33 L392.38 102.18 L392.88 102.03 L393.38 101.88 L393.88 101.73 L394.39 101.56 L394.89 101.39 L395.39 101.21 L395.89 101.03 L396.39 100.84 L396.89 100.65 L397.39 100.45 L397.89 100.25 L398.39 100.05 L398.89 99.84 L399.39 99.64 L399.89 99.43 L400.4 99.22 L400.9 99.02 L401.4 98.81 L401.9 98.61 L402.4 98.4 L402.9 98.2 L403.4 98 L403.9 97.81 L404.4 97.62 L404.9 97.44 L405.4 97.25 L405.91 97.07 L406.41 96.9 L406.91 96.72 L407.41 96.55 L407.91 96.37 L408.41 96.2 L408.91 96.03 L409.41 95.86 L409.91 95.69 L410.41 95.52 L410.91 95.35 L411.41 95.18 L411.92 95.01 L412.42 94.84 L412.92 94.67 L413.42 94.5 L413.92 94.33 L414.42 94.16 L414.92 93.98 L415.42 93.81 L415.92 93.64 L416.42 93.46 L416.92 93.29 L417.42 93.11 L417.93 92.93 L418.43 92.76 L418.93 92.58 L419.43 92.41 L419.93 92.23 L420.43 92.06 L420.93 91.88 L421.43 91.71 L421.93 91.53 L422.43 91.36 L422.93 91.18 L423.43 91.01 L423.94 90.83 L424.44 90.66 L424.94 90.48 L425.44 90.31 L425.94 90.13 L426.44 89.95 L426.94 89.78 L427.44 89.6 L427.94 89.43 L428.44 89.25 L428.94 89.07 L429.45 88.9 L429.95 88.72 L430.45 88.54 L430.95 88.37 L431.45 88.19 L431.95 88.01 L432.45 87.83 L432.95 87.65 L433.45 87.47 L433.95 87.29 L434.45 87.11 L434.95 86.93 L435.46 86.75 L435.96 86.57 L436.46 86.39 L436.96 86.21 L437.46 86.02 L437.96 85.84 L438.46 85.66 L438.96 85.47 L439.46 85.29 L439.96 85.1 L440.46 84.91 L440.96 84.73 L441.47 84.54 L441.97 84.35 L442.47 84.16 L442.97 83.97 L443.47 83.78 L443.97 83.59 L444.47 83.4 L444.97 83.2 L445.47 83.01 L445.97 82.82 L446.47 82.62 L446.97 82.43 L447.48 82.23 L447.98 82.03 L448.48 81.83 L448.98 81.63 L449.48 81.43 L449.98 81.23 L450.48 81.02 L450.98 80.82 L451.48 80.61 L451.98 80.4 L452.48 80.19 L452.99 79.98 L453.49 79.77 L453.99 79.56 L454.49 79.35 L454.99 79.13 L455.49 78.92 L455.99 78.7 L456.49 78.49 L456.99 78.27 L457.49 78.05 L457.99 77.83 L458.49 77.62 L459 77.4 L459.5 77.18 L460 76.96 L460.5 76.73 L461 76.51 L461.5 76.29 L462 76.07 L462.5 75.85 L463 75.62 L463.5 75.4 L464 75.18 L464.5 74.96 L465.01 74.73 L465.51 74.51 L466.01 74.28 L466.51 74.06 L467.01 73.84 L467.51 73.61 L468.01 73.39 L468.51 73.17 L469.01 72.94 L469.51 72.72 L470.01 72.5 L470.51 72.27 L471.02 72.05 L471.52 71.83 L472.02 71.61 L472.52 71.39 L473.02 71.17 L473.52 70.95 L474.02 70.73 L474.52 70.51 L475.02 70.29 L475.52 70.07 L476.02 69.86 L476.53 69.64 L477.03 69.43 L477.53 69.22 L478.03 69.01 L478.53 68.8 L479.03 68.58 L479.53 68.37 L480.03 68.15 L480.53 67.94 L481.03 67.72 L481.53 67.5 L482.03 67.27 L482.54 67.04 L483.04 66.81 L483.54 66.58 L484.04 66.34 L484.54 66.1 L485.04 65.85 L485.54 65.61 L486.04 65.37 L486.54 65.12 L487.04 64.87 L487.54 64.62 L488.04 64.37 L488.55 64.12 L489.05 63.86 L489.55 63.61 L490.05 63.35 L490.55 63.09 L491.05 62.83 L491.55 62.57 L492.05 62.3 L492.55 62.04 L493.05 61.77 L493.55 61.5 L494.05 61.22 L494.56 60.95 L495.06 60.67 L495.56 60.4 L496.06 60.12 L496.56 59.83 L497.06 59.55 L497.56 59.26 L498.06 58.97 L498.56 58.68 L499.06 58.39 L499.56 58.09 L500.07 57.79 L500.57 57.49 L501.07 57.19 L501.57 56.89 L502.07 56.58 L502.57 56.27 L503.07 55.96 L503.57 55.64 L504.07 55.32 L504.57 55 L505.07 54.67 L505.57 54.34 L506.08 54.01 L506.58 53.67 L507.08 53.33 L507.58 52.99 L508.08 52.65 L508.58 52.3 L509.08 51.95 L509.58 51.59 L510.08 51.23 L510.58 50.87 L511.08 50.51 L511.58 50.14 L512.09 49.77 L512.59 49.4 L513.09 49.03 L513.59 48.65 L514.09 48.27 L514.59 47.88 L515.09 47.5 L515.59 47.11 L516.09 46.72 L516.59 46.33 L517.09 45.93 L517.59 45.53 L518.1 45.13 L518.6 44.73 L519.1 44.33 L519.6 43.92 L520.1 43.51 L520.6 43.1" fill="none" stroke="#3c3c3c" stroke-width="1.15" stroke-linejoin="round" />
<line x1="321.4" y1="115.6" x2="321.4" y2="120.1" stroke="#111" stroke-width="1.2" />
<line x1="357" y1="110.1" x2="357" y2="120.1" stroke="#111" stroke-width="1.2" stroke-dasharray="1.6 1.4" />
<line x1="393" y1="102" x2="393" y2="120.1" stroke="#111" stroke-width="1.2" stroke-dasharray="1.6 1.4" />
<line x1="447.8" y1="82.1" x2="447.8" y2="120.1" stroke="#111" stroke-width="1.3" stroke-dasharray="2 1.4" />
<line x1="483.7" y1="66.5" x2="483.7" y2="120.1" stroke="#111" stroke-width="1.3" stroke-dasharray="2.8 1.6" />
<line x1="520.6" y1="43.6" x2="520.6" y2="120.1" stroke="#111" stroke-width="1.3" stroke-dasharray="4.8 1.9" />
<path d="M411 78.9 L417.6 78.9 L417.6 94.9 L423.6 104.1 L417.6 107.2 L417.6 123.9 L411 123.9 L411 107.2 L404.6 98.2 L411 94.9 Z" fill="#fff" stroke="none"/>
<path d="M412 78.9 L412 94.9 L405.2 98.2 L418.2 104.1 L412 107.2 L412 123.9" fill="none" stroke="#000" stroke-width="1.25" stroke-linejoin="miter"/>
<path d="M416.9 78.9 L416.9 94.9 L410.1 98.2 L423.1 104.1 L416.9 107.2 L416.9 123.9" fill="none" stroke="#000" stroke-width="1.25" stroke-linejoin="miter"/>
<line x1="321.2" y1="86.2" x2="357" y2="86.2" stroke="#444" stroke-width="1.8" />
<line x1="321.2" y1="83.4" x2="321.2" y2="89.8" stroke="#333" stroke-width="1.25" />
<line x1="357" y1="83.4" x2="357" y2="89.8" stroke="#333" stroke-width="1.25" />
<path d="M322.8 88.2 C324.2 92.6 330.1 93.2 333.1 93.2" fill="none" stroke="#2a2a2a" stroke-width="0.95"/>
<path d="M355.4 88.2 C354 92.6 348.1 93.2 345.1 93.2" fill="none" stroke="#2a2a2a" stroke-width="0.95"/>
<text x="339.1" y="96.7" font-size="10" font-style="italic" text-anchor="middle" fill="#111">x</text>
<text font-size="11" fill="#111"><tspan x="288.3" y="32.5" style="stroke-width:0.38px">λ</tspan><tspan x="295.2" y="34.4" font-size="6.5" font-style="italic">o</tspan><tspan x="300.2" y="33.5" font-size="12.5">(</tspan><tspan x="305.8" y="32.5" font-style="italic">t</tspan><tspan x="309.8" y="33.5" font-size="12.5">)</tspan></text>
<text x="404.8" y="25.8" font-size="10.4" text-anchor="middle" fill="#111">Non-maintainable</text>
<text x="404.8" y="35" font-size="10.4" text-anchor="middle" fill="#111">failure mode</text>
<text x="314.3" y="129.7" font-size="10.5" fill="#111"><tspan font-style="italic">1x</tspan></text>
<text x="351.2" y="129.7" font-size="10.5" fill="#111"><tspan font-style="italic">2x</tspan></text>
<text x="387.2" y="129.7" font-size="10.5" fill="#111"><tspan font-style="italic">3x</tspan></text>
<text x="442.6" y="129.7" font-size="10.5" fill="#111"><tspan font-style="italic">kx</tspan></text>
<text x="469.3" y="129.7" font-size="10.5" fill="#111">(<tspan font-style="italic">k</tspan>+1)<tspan font-style="italic">x</tspan></text>
<text x="512.6" y="129.7" font-size="10.5" fill="#111"><tspan font-style="italic">T</tspan><tspan font-style="italic" font-size="7.3" dy="2">L</tspan><tspan dy="-2">=</tspan><tspan font-style="italic">Nx</tspan></text>
<line x1="285.2" y1="130" x2="285.2" y2="231.5" stroke="#7a7a7a" stroke-width="1.6" />
<line x1="284.4" y1="230.7" x2="541" y2="230.7" stroke="#7a7a7a" stroke-width="1.6" />
<path d="M285.6 230.7 L286.21 230.69 L286.81 230.66 L287.42 230.63 L288.02 230.58 L288.63 230.52 L289.23 230.45 L289.84 230.38 L290.44 230.29 L291.05 230.2 L291.65 230.1 L292.26 229.99 L292.86 229.87 L293.47 229.75 L294.07 229.62 L294.68 229.48 L295.28 229.33 L295.89 229.18 L296.49 229.02 L297.1 228.86 L297.7 228.68 L298.31 228.5 L298.91 228.32 L299.52 228.12 L300.12 227.92 L300.73 227.72 L301.33 227.51 L301.94 227.29 L302.54 227.06 L303.15 226.83 L303.75 226.6 L304.36 226.35 L304.96 226.11 L305.57 225.85 L306.17 225.59 L306.78 225.33 L307.38 225.06 L307.99 224.78 L308.59 224.5 L309.2 224.21 L309.8 223.91 L310.41 223.61 L311.01 223.31 L311.62 223 L312.22 222.68 L312.83 222.36 L313.43 222.03 L314.04 221.7 L314.64 221.36 L315.25 221.02 L315.85 220.67 L316.46 220.32 L317.06 219.96 L317.67 219.59 L318.27 219.22 L318.88 218.85 L319.48 218.47 L320.09 218.08 L320.69 217.69 L321.3 217.3" fill="none" stroke="#3c3c3c" stroke-width="1.15" stroke-linejoin="round" />
<path d="M321.3 226.6 L321.91 226.58 L322.51 226.54 L323.12 226.49 L323.72 226.41 L324.33 226.33 L324.93 226.23 L325.54 226.12 L326.14 226 L326.75 225.86 L327.35 225.72 L327.96 225.56 L328.56 225.4 L329.17 225.22 L329.77 225.04 L330.38 224.85 L330.98 224.64 L331.59 224.43 L332.19 224.21 L332.8 223.98 L333.4 223.74 L334.01 223.49 L334.61 223.24 L335.22 222.97 L335.82 222.7 L336.43 222.42 L337.03 222.13 L337.64 221.83 L338.24 221.53 L338.85 221.22 L339.45 220.9 L340.06 220.57 L340.66 220.24 L341.27 219.9 L341.87 219.55 L342.48 219.19 L343.08 218.83 L343.69 218.46 L344.29 218.08 L344.9 217.7 L345.5 217.3 L346.11 216.9 L346.71 216.5 L347.32 216.09 L347.92 215.67 L348.53 215.24 L349.13 214.81 L349.74 214.37 L350.34 213.93 L350.95 213.47 L351.55 213.01 L352.16 212.55 L352.76 212.08 L353.37 211.6 L353.97 211.12 L354.58 210.63 L355.18 210.13 L355.79 209.62 L356.39 209.12 L357 208.6" fill="none" stroke="#3c3c3c" stroke-width="1.15" stroke-linejoin="round" />
<path d="M357 221 L357.61 220.97 L358.22 220.91 L358.84 220.82 L359.45 220.72 L360.06 220.6 L360.67 220.47 L361.28 220.32 L361.89 220.16 L362.51 219.98 L363.12 219.8 L363.73 219.6 L364.34 219.39 L364.95 219.17 L365.57 218.94 L366.18 218.7 L366.79 218.45 L367.4 218.19 L368.01 217.92 L368.63 217.64 L369.24 217.35 L369.85 217.05 L370.46 216.75 L371.07 216.44 L371.68 216.12 L372.3 215.79 L372.91 215.45 L373.52 215.1 L374.13 214.75 L374.74 214.39 L375.36 214.02 L375.97 213.64 L376.58 213.26 L377.19 212.87 L377.8 212.47 L378.42 212.07 L379.03 211.65 L379.64 211.24 L380.25 210.81 L380.86 210.38 L381.47 209.94 L382.09 209.49 L382.7 209.04 L383.31 208.58 L383.92 208.12 L384.53 207.64 L385.15 207.17 L385.76 206.68 L386.37 206.19 L386.98 205.7 L387.59 205.19 L388.21 204.68 L388.82 204.17 L389.43 203.65 L390.04 203.12 L390.65 202.59 L391.26 202.05 L391.88 201.51 L392.49 200.96 L393.1 200.4" fill="none" stroke="#3c3c3c" stroke-width="1.15" stroke-linejoin="round" />
<path d="M393.1 213.5 L394.03 213.35 L394.95 213.1 L395.88 212.79 L396.81 212.44 L397.74 212.06 L398.66 211.64 L399.59 211.19 L400.52 210.71 L401.44 210.21 L402.37 209.69 L403.3 209.15 L404.23 208.58 L405.15 208 L406.08 207.4 L407.01 206.78 L407.93 206.15 L408.86 205.5 L409.79 204.83 L410.72 204.15 L411.64 203.45 L412.57 202.74 L413.5 202.02 L414.42 201.28 L415.35 200.53 L416.28 199.76 L417.21 198.99 L418.13 198.2 L419.06 197.4 L419.99 196.59 L420.91 195.77 L421.84 194.94 L422.77 194.09 L423.69 193.24 L424.62 192.38 L425.55 191.5 L426.48 190.62 L427.4 189.72 L428.33 188.82 L429.26 187.9 L430.18 186.98 L431.11 186.05 L432.04 185.1 L432.97 184.15 L433.89 183.19 L434.82 182.22 L435.75 181.25 L436.67 180.26 L437.6 179.27 L438.53 178.26 L439.46 177.25 L440.38 176.23 L441.31 175.21 L442.24 174.17 L443.16 173.13 L444.09 172.08 L445.02 171.02 L445.95 169.95 L446.87 168.88 L447.8 167.8" fill="none" stroke="#3c3c3c" stroke-width="1.15" stroke-linejoin="round" />
<path d="M447.8 189.8 L448.42 189.7 L449.03 189.52 L449.65 189.29 L450.27 189.03 L450.88 188.73 L451.5 188.41 L452.12 188.06 L452.74 187.69 L453.35 187.3 L453.97 186.89 L454.59 186.46 L455.2 186.01 L455.82 185.54 L456.44 185.06 L457.05 184.56 L457.67 184.04 L458.29 183.51 L458.91 182.97 L459.52 182.41 L460.14 181.84 L460.76 181.26 L461.37 180.66 L461.99 180.05 L462.61 179.43 L463.22 178.8 L463.84 178.16 L464.46 177.5 L465.07 176.84 L465.69 176.16 L466.31 175.47 L466.93 174.78 L467.54 174.07 L468.16 173.35 L468.78 172.62 L469.39 171.88 L470.01 171.14 L470.63 170.38 L471.24 169.62 L471.86 168.84 L472.48 168.06 L473.09 167.26 L473.71 166.46 L474.33 165.65 L474.95 164.83 L475.56 164.01 L476.18 163.17 L476.8 162.33 L477.41 161.48 L478.03 160.62 L478.65 159.75 L479.26 158.88 L479.88 157.99 L480.5 157.1 L481.12 156.2 L481.73 155.3 L482.35 154.38 L482.97 153.46 L483.58 152.54 L484.2 151.6" fill="none" stroke="#3c3c3c" stroke-width="1.15" stroke-linejoin="round" />
<path d="M484.2 177.7 L484.81 177.58 L485.43 177.38 L486.04 177.14 L486.65 176.86 L487.27 176.55 L487.88 176.21 L488.49 175.85 L489.11 175.47 L489.72 175.08 L490.34 174.66 L490.95 174.22 L491.56 173.77 L492.18 173.31 L492.79 172.83 L493.4 172.33 L494.02 171.83 L494.63 171.31 L495.24 170.77 L495.86 170.23 L496.47 169.67 L497.08 169.11 L497.7 168.53 L498.31 167.94 L498.93 167.34 L499.54 166.73 L500.15 166.11 L500.77 165.48 L501.38 164.84 L501.99 164.2 L502.61 163.54 L503.22 162.87 L503.83 162.2 L504.45 161.52 L505.06 160.83 L505.67 160.13 L506.29 159.42 L506.9 158.71 L507.52 157.98 L508.13 157.25 L508.74 156.52 L509.36 155.77 L509.97 155.02 L510.58 154.26 L511.2 153.49 L511.81 152.72 L512.42 151.94 L513.04 151.15 L513.65 150.36 L514.26 149.56 L514.88 148.75 L515.49 147.94 L516.11 147.12 L516.72 146.29 L517.33 145.46 L517.95 144.62 L518.56 143.77 L519.17 142.92 L519.79 142.06 L520.4 141.2" fill="none" stroke="#3c3c3c" stroke-width="1.15" stroke-linejoin="round" />
<line x1="321.3" y1="217.3" x2="321.3" y2="230.7" stroke="#222" stroke-width="1.35" stroke-dasharray="2.8 1.8" />
<line x1="357" y1="208.6" x2="357" y2="230.7" stroke="#222" stroke-width="1.35" stroke-dasharray="2.8 1.8" />
<line x1="393.1" y1="200.4" x2="393.1" y2="230.7" stroke="#222" stroke-width="1.35" stroke-dasharray="2.8 1.8" />
<line x1="447.8" y1="167.8" x2="447.8" y2="230.7" stroke="#222" stroke-width="1.35" stroke-dasharray="4.5 2.6" />
<line x1="484.2" y1="151.6" x2="484.2" y2="230.7" stroke="#222" stroke-width="1.35" stroke-dasharray="4.5 2.6" />
<line x1="520.4" y1="141.2" x2="520.4" y2="230.7" stroke="#222" stroke-width="1.35" stroke-dasharray="4.5 2.6" />
<line x1="304.75" y1="226.6" x2="321.3" y2="226.6" stroke="#777" stroke-width="1" stroke-dasharray="1.1 1.4" />
<line x1="340.26" y1="221" x2="357" y2="221" stroke="#777" stroke-width="1" stroke-dasharray="1.1 1.4" />
<line x1="377.2" y1="213.5" x2="393.1" y2="213.5" stroke="#777" stroke-width="1" stroke-dasharray="1.1 1.4" />
<line x1="428.32" y1="189.8" x2="447.8" y2="189.8" stroke="#777" stroke-width="1" stroke-dasharray="1.1 1.4" />
<line x1="465.27" y1="177.7" x2="484.2" y2="177.7" stroke="#777" stroke-width="1" stroke-dasharray="1.1 1.4" />
<line x1="502.61" y1="164.6" x2="520.4" y2="164.6" stroke="#777" stroke-width="1" stroke-dasharray="1.1 1.4" />
<path d="M411 189.5 L417.6 189.5 L417.6 205.5 L423.6 214.7 L417.6 217.8 L417.6 234.5 L411 234.5 L411 217.8 L404.6 208.8 L411 205.5 Z" fill="#fff" stroke="none"/>
<path d="M412 189.5 L412 205.5 L405.2 208.8 L418.2 214.7 L412 217.8 L412 234.5" fill="none" stroke="#000" stroke-width="1.25" stroke-linejoin="miter"/>
<path d="M416.9 189.5 L416.9 205.5 L410.1 208.8 L423.1 214.7 L416.9 217.8 L416.9 234.5" fill="none" stroke="#000" stroke-width="1.25" stroke-linejoin="miter"/>
<line x1="337.4" y1="181.4" x2="357.3" y2="181.4" stroke="#666" stroke-width="1.1" stroke-dasharray="1 1.2" />
<line x1="337.4" y1="178.2" x2="337.4" y2="184.6" stroke="#333" stroke-width="1.2" />
<line x1="357.3" y1="178.2" x2="357.3" y2="184.6" stroke="#333" stroke-width="1.2" />
<path d="M339 183.4 C340.4 184.4 340.15 185 343.15 185" fill="none" stroke="#2a2a2a" stroke-width="0.95"/>
<path d="M355.7 183.4 C354.3 184.4 354.55 185 351.55 185" fill="none" stroke="#2a2a2a" stroke-width="0.95"/>
<text x="347.35" y="188.6" font-size="8.8" text-anchor="middle" fill="#111">δ<tspan font-style="italic">x</tspan></text>
<line x1="321.3" y1="197.5" x2="357.2" y2="197.5" stroke="#444" stroke-width="1.8" />
<line x1="321.3" y1="194.7" x2="321.3" y2="201.1" stroke="#333" stroke-width="1.25" />
<line x1="357.2" y1="194.7" x2="357.2" y2="201.1" stroke="#333" stroke-width="1.25" />
<path d="M322.9 199.5 C324.3 203.9 330.25 204.5 333.25 204.5" fill="none" stroke="#2a2a2a" stroke-width="0.95"/>
<path d="M355.6 199.5 C354.2 203.9 348.25 204.5 345.25 204.5" fill="none" stroke="#2a2a2a" stroke-width="0.95"/>
<text x="339.25" y="208" font-size="10" font-style="italic" text-anchor="middle" fill="#111">x</text>
<text font-size="11" fill="#111"><tspan x="289.7" y="144.2" style="stroke-width:0.38px">λ</tspan><tspan x="297" y="147.5" font-size="6.5" font-style="italic">p</tspan><tspan x="303.5" y="145.1" font-size="12.5">(</tspan><tspan x="308.3" y="144.2" font-style="italic">t</tspan><tspan x="312.3" y="145.1" font-size="12.5">)</tspan></text>
<text x="411.1" y="151" font-size="10.4" text-anchor="middle" fill="#111">Maintainable</text>
<text x="411.6" y="160.8" font-size="10.4" text-anchor="middle" fill="#111">failure mode</text>
<text x="314.3" y="240.1" font-size="10.5" fill="#111"><tspan font-style="italic">1x</tspan></text>
<text x="351.2" y="240.1" font-size="10.5" fill="#111"><tspan font-style="italic">2x</tspan></text>
<text x="387.2" y="240.1" font-size="10.5" fill="#111"><tspan font-style="italic">3x</tspan></text>
<text x="442.6" y="240.1" font-size="10.5" fill="#111"><tspan font-style="italic">kx</tspan></text>
<text x="469.3" y="240.1" font-size="10.5" fill="#111">(<tspan font-style="italic">k</tspan>+1)<tspan font-style="italic">x</tspan></text>
<text x="512.6" y="240.1" font-size="10.5" fill="#111"><tspan font-style="italic">T</tspan><tspan font-style="italic" font-size="7.3" dy="2">L</tspan><tspan dy="-2">=</tspan><tspan font-style="italic">Nx</tspan></text>
<line x1="285.2" y1="249" x2="285.2" y2="380.2" stroke="#7a7a7a" stroke-width="1.6" />
<line x1="284.4" y1="379.4" x2="541" y2="379.4" stroke="#7a7a7a" stroke-width="1.6" />
<clipPath id="hbr"><path d="M447.8 379.4 L447.8 311.2 L448.41 311.15 L449.02 311.04 L449.64 310.89 L450.25 310.7 L450.86 310.49 L451.47 310.25 L452.08 309.98 L452.69 309.69 L453.31 309.37 L453.92 309.04 L454.53 308.68 L455.14 308.31 L455.75 307.91 L456.37 307.5 L456.98 307.06 L457.59 306.61 L458.2 306.15 L458.81 305.66 L459.43 305.16 L460.04 304.65 L460.65 304.11 L461.26 303.57 L461.87 303 L462.48 302.43 L463.1 301.83 L463.71 301.23 L464.32 300.61 L464.93 299.97 L465.54 299.32 L466.16 298.66 L466.77 297.99 L467.38 297.3 L467.99 296.6 L468.6 295.88 L469.22 295.15 L469.83 294.41 L470.44 293.66 L471.05 292.9 L471.66 292.12 L472.27 291.33 L472.89 290.53 L473.5 289.72 L474.11 288.9 L474.72 288.06 L475.33 287.21 L475.95 286.35 L476.56 285.48 L477.17 284.6 L477.78 283.71 L478.39 282.81 L479.01 281.89 L479.62 280.97 L480.23 280.03 L480.84 279.09 L481.45 278.13 L482.06 277.16 L482.68 276.19 L483.29 275.2 L483.9 274.2 L483.9 379.4 Z"/></clipPath>
<path d="M301.34 274.2 L357.9 379.4 M307.94 274.2 L364.5 379.4 M314.54 274.2 L371.1 379.4 M321.14 274.2 L377.7 379.4 M327.74 274.2 L384.3 379.4 M334.34 274.2 L390.9 379.4 M340.94 274.2 L397.5 379.4 M347.54 274.2 L404.1 379.4 M354.14 274.2 L410.7 379.4 M360.74 274.2 L417.3 379.4 M367.34 274.2 L423.9 379.4 M373.94 274.2 L430.5 379.4 M380.54 274.2 L437.1 379.4 M387.14 274.2 L443.7 379.4 M393.74 274.2 L450.3 379.4 M400.34 274.2 L456.9 379.4 M406.94 274.2 L463.5 379.4 M413.54 274.2 L470.1 379.4 M420.14 274.2 L476.7 379.4 M426.74 274.2 L483.3 379.4 M433.34 274.2 L489.9 379.4 M439.94 274.2 L496.5 379.4 M446.54 274.2 L503.1 379.4 M453.14 274.2 L509.7 379.4 M459.74 274.2 L516.3 379.4 M466.34 274.2 L522.9 379.4 M472.94 274.2 L529.5 379.4 M479.54 274.2 L536.1 379.4 M486.14 274.2 L542.7 379.4 M492.74 274.2 L549.3 379.4" stroke="#484848" stroke-width="0.8" fill="none" clip-path="url(#hbr)"/>
<path d="M285.6 379.4 L286.19 379.38 L286.78 379.34 L287.37 379.29 L287.97 379.22 L288.56 379.14 L289.15 379.05 L289.74 378.95 L290.33 378.85 L290.92 378.73 L291.52 378.61 L292.11 378.48 L292.7 378.34 L293.29 378.2 L293.88 378.05 L294.47 377.89 L295.06 377.73 L295.66 377.56 L296.25 377.38 L296.84 377.2 L297.43 377.01 L298.02 376.81 L298.61 376.61 L299.21 376.41 L299.8 376.2 L300.39 375.98 L300.98 375.76 L301.57 375.53 L302.16 375.3 L302.75 375.07 L303.35 374.83 L303.94 374.58 L304.53 374.33 L305.12 374.07 L305.71 373.81 L306.3 373.55 L306.89 373.28 L307.49 373 L308.08 372.72 L308.67 372.44 L309.26 372.15 L309.85 371.86 L310.44 371.56 L311.04 371.26 L311.63 370.96 L312.22 370.65 L312.81 370.33 L313.4 370.02 L313.99 369.7 L314.58 369.37 L315.18 369.04 L315.77 368.71 L316.36 368.37 L316.95 368.03 L317.54 367.68 L318.13 367.33 L318.73 366.98 L319.32 366.62 L319.91 366.26 L320.5 365.9" fill="none" stroke="#3c3c3c" stroke-width="1.15" stroke-linejoin="round" />
<path d="M320.5 370.2 L321.11 370.17 L321.72 370.12 L322.34 370.04 L322.95 369.95 L323.56 369.84 L324.17 369.72 L324.78 369.58 L325.39 369.44 L326.01 369.28 L326.62 369.11 L327.23 368.93 L327.84 368.74 L328.45 368.54 L329.07 368.33 L329.68 368.11 L330.29 367.88 L330.9 367.65 L331.51 367.4 L332.13 367.15 L332.74 366.89 L333.35 366.62 L333.96 366.34 L334.57 366.06 L335.18 365.77 L335.8 365.47 L336.41 365.16 L337.02 364.85 L337.63 364.53 L338.24 364.2 L338.86 363.86 L339.47 363.52 L340.08 363.17 L340.69 362.82 L341.3 362.46 L341.92 362.09 L342.53 361.72 L343.14 361.34 L343.75 360.95 L344.36 360.56 L344.97 360.16 L345.59 359.75 L346.2 359.34 L346.81 358.93 L347.42 358.5 L348.03 358.08 L348.65 357.64 L349.26 357.2 L349.87 356.76 L350.48 356.31 L351.09 355.85 L351.71 355.39 L352.32 354.92 L352.93 354.45 L353.54 353.97 L354.15 353.49 L354.76 353 L355.38 352.5 L355.99 352 L356.6 351.5" fill="none" stroke="#3c3c3c" stroke-width="1.15" stroke-linejoin="round" />
<path d="M356.6 357 L357.22 356.97 L357.84 356.91 L358.46 356.82 L359.08 356.72 L359.7 356.6 L360.32 356.47 L360.94 356.32 L361.56 356.15 L362.18 355.98 L362.8 355.79 L363.42 355.59 L364.04 355.38 L364.66 355.16 L365.28 354.93 L365.91 354.69 L366.53 354.43 L367.15 354.17 L367.77 353.9 L368.39 353.62 L369.01 353.33 L369.63 353.04 L370.25 352.73 L370.87 352.41 L371.49 352.09 L372.11 351.76 L372.73 351.42 L373.35 351.07 L373.97 350.72 L374.59 350.36 L375.21 349.99 L375.83 349.61 L376.45 349.22 L377.07 348.83 L377.69 348.43 L378.31 348.02 L378.93 347.61 L379.55 347.19 L380.17 346.76 L380.79 346.33 L381.41 345.89 L382.03 345.44 L382.65 344.98 L383.27 344.52 L383.89 344.05 L384.52 343.58 L385.14 343.1 L385.76 342.61 L386.38 342.12 L387 341.62 L387.62 341.12 L388.24 340.6 L388.86 340.09 L389.48 339.56 L390.1 339.03 L390.72 338.5 L391.34 337.96 L391.96 337.41 L392.58 336.86 L393.2 336.3" fill="none" stroke="#3c3c3c" stroke-width="1.15" stroke-linejoin="round" />
<path d="M393.2 341 L393.51 340.92 L393.82 340.82 L394.14 340.71 L394.45 340.59 L394.76 340.46 L395.07 340.33 L395.38 340.19 L395.69 340.05 L396.01 339.91 L396.32 339.76 L396.63 339.61 L396.94 339.46 L397.25 339.31 L397.57 339.15 L397.88 338.99 L398.19 338.83 L398.5 338.66 L398.81 338.5 L399.13 338.33 L399.44 338.16 L399.75 337.99 L400.06 337.82 L400.37 337.64 L400.68 337.47 L401 337.29 L401.31 337.11 L401.62 336.93 L401.93 336.75 L402.24 336.57 L402.56 336.38 L402.87 336.2 L403.18 336.01 L403.49 335.82 L403.8 335.63 L404.12 335.44 L404.43 335.25 L404.74 335.06 L405.05 334.87 L405.36 334.67 L405.67 334.48 L405.99 334.28 L406.3 334.08 L406.61 333.89 L406.92 333.69 L407.23 333.49 L407.55 333.29 L407.86 333.08 L408.17 332.88 L408.48 332.68 L408.79 332.47 L409.11 332.27 L409.42 332.06 L409.73 331.86 L410.04 331.65 L410.35 331.44 L410.66 331.23 L410.98 331.02 L411.29 330.81 L411.6 330.6" fill="none" stroke="#3c3c3c" stroke-width="1.15" stroke-linejoin="round" />
<path d="M416.3 331.5 L416.83 331.38 L417.37 331.19 L417.9 330.97 L418.44 330.72 L418.97 330.45 L419.5 330.15 L420.04 329.84 L420.57 329.51 L421.11 329.17 L421.64 328.81 L422.17 328.44 L422.71 328.06 L423.24 327.67 L423.77 327.27 L424.31 326.86 L424.84 326.43 L425.38 326 L425.91 325.56 L426.44 325.11 L426.98 324.65 L427.51 324.19 L428.05 323.71 L428.58 323.23 L429.11 322.74 L429.65 322.24 L430.18 321.74 L430.72 321.23 L431.25 320.71 L431.78 320.19 L432.32 319.66 L432.85 319.13 L433.38 318.58 L433.92 318.04 L434.45 317.48 L434.99 316.92 L435.52 316.36 L436.05 315.79 L436.59 315.21 L437.12 314.63 L437.66 314.04 L438.19 313.45 L438.72 312.86 L439.26 312.25 L439.79 311.65 L440.33 311.04 L440.86 310.42 L441.39 309.8 L441.93 309.17 L442.46 308.54 L442.99 307.91 L443.53 307.27 L444.06 306.62 L444.6 305.98 L445.13 305.32 L445.66 304.67 L446.2 304.01 L446.73 303.34 L447.27 302.67 L447.8 302" fill="none" stroke="#3c3c3c" stroke-width="1.15" stroke-linejoin="round" />
<path d="M447.8 311.2 L448.41 311.15 L449.02 311.04 L449.64 310.89 L450.25 310.7 L450.86 310.49 L451.47 310.25 L452.08 309.98 L452.69 309.69 L453.31 309.37 L453.92 309.04 L454.53 308.68 L455.14 308.31 L455.75 307.91 L456.37 307.5 L456.98 307.06 L457.59 306.61 L458.2 306.15 L458.81 305.66 L459.43 305.16 L460.04 304.65 L460.65 304.11 L461.26 303.57 L461.87 303 L462.48 302.43 L463.1 301.83 L463.71 301.23 L464.32 300.61 L464.93 299.97 L465.54 299.32 L466.16 298.66 L466.77 297.99 L467.38 297.3 L467.99 296.6 L468.6 295.88 L469.22 295.15 L469.83 294.41 L470.44 293.66 L471.05 292.9 L471.66 292.12 L472.27 291.33 L472.89 290.53 L473.5 289.72 L474.11 288.9 L474.72 288.06 L475.33 287.21 L475.95 286.35 L476.56 285.48 L477.17 284.6 L477.78 283.71 L478.39 282.81 L479.01 281.89 L479.62 280.97 L480.23 280.03 L480.84 279.09 L481.45 278.13 L482.06 277.16 L482.68 276.19 L483.29 275.2 L483.9 274.2" fill="none" stroke="#3c3c3c" stroke-width="1.15" stroke-linejoin="round" />
<path d="M483.9 286.7 L484.52 286.64 L485.13 286.51 L485.75 286.34 L486.37 286.13 L486.98 285.88 L487.6 285.61 L488.22 285.3 L488.84 284.97 L489.45 284.61 L490.07 284.23 L490.69 283.82 L491.3 283.39 L491.92 282.94 L492.54 282.47 L493.15 281.97 L493.77 281.46 L494.39 280.92 L495.01 280.37 L495.62 279.8 L496.24 279.21 L496.86 278.6 L497.47 277.97 L498.09 277.33 L498.71 276.67 L499.32 275.99 L499.94 275.3 L500.56 274.59 L501.17 273.86 L501.79 273.12 L502.41 272.37 L503.03 271.59 L503.64 270.81 L504.26 270 L504.88 269.19 L505.49 268.36 L506.11 267.51 L506.73 266.65 L507.34 265.78 L507.96 264.89 L508.58 263.99 L509.19 263.07 L509.81 262.14 L510.43 261.2 L511.05 260.25 L511.66 259.28 L512.28 258.3 L512.9 257.3 L513.51 256.29 L514.13 255.27 L514.75 254.24 L515.36 253.2 L515.98 252.14 L516.6 251.07 L517.22 249.99 L517.83 248.89 L518.45 247.79 L519.07 246.67 L519.68 245.54 L520.3 244.4" fill="none" stroke="#3c3c3c" stroke-width="1.15" stroke-linejoin="round" />
<line x1="320.5" y1="365.4" x2="320.5" y2="379.4" stroke="#262626" stroke-width="1.35" stroke-dasharray="3.2 2" />
<line x1="356.6" y1="351" x2="356.6" y2="379.4" stroke="#262626" stroke-width="1.35" stroke-dasharray="3.2 2" />
<line x1="393.2" y1="335.8" x2="393.2" y2="379.4" stroke="#262626" stroke-width="1.35" stroke-dasharray="3.2 2" />
<line x1="447.8" y1="301.5" x2="447.8" y2="379.4" stroke="#262626" stroke-width="1.35" stroke-dasharray="4.2 2.3" />
<line x1="483.9" y1="273.7" x2="483.9" y2="379.4" stroke="#262626" stroke-width="1.35" stroke-dasharray="4.2 2.3" />
<line x1="520.3" y1="243.9" x2="520.3" y2="379.4" stroke="#262626" stroke-width="1.35" stroke-dasharray="5 2" />
<path d="M410.6 321.4 L417.2 321.4 L417.2 344.9 L424 355.4 L417.2 360 L417.2 382.6 L410.6 382.6 L410.6 360 L404.2 348.4 L410.6 344.9 Z" fill="#fff" stroke="none"/>
<path d="M411.6 321.4 L411.6 344.9 L404.8 348.4 L418.6 355.4 L411.6 360 L411.6 382.6" fill="none" stroke="#000" stroke-width="1.25" stroke-linejoin="miter"/>
<path d="M416.3 321.4 L416.3 344.9 L409.5 348.4 L423.3 355.4 L416.3 360 L416.3 382.6" fill="none" stroke="#000" stroke-width="1.25" stroke-linejoin="miter"/>
<line x1="337.2" y1="326.2" x2="356.3" y2="326.2" stroke="#666" stroke-width="1.1" stroke-dasharray="1 1.2" />
<line x1="337.2" y1="323" x2="337.2" y2="329.4" stroke="#333" stroke-width="1.2" />
<line x1="356.3" y1="323" x2="356.3" y2="329.4" stroke="#333" stroke-width="1.2" />
<path d="M338.8 328.2 C340.2 329.2 339.55 329.8 342.55 329.8" fill="none" stroke="#2a2a2a" stroke-width="0.95"/>
<path d="M354.7 328.2 C353.3 329.2 353.95 329.8 350.95 329.8" fill="none" stroke="#2a2a2a" stroke-width="0.95"/>
<text x="346.75" y="333.4" font-size="8.8" text-anchor="middle" fill="#111">δ<tspan font-style="italic">x</tspan></text>
<line x1="320.6" y1="343.5" x2="356.4" y2="343.5" stroke="#444" stroke-width="1.8" />
<line x1="320.6" y1="340.7" x2="320.6" y2="347.1" stroke="#333" stroke-width="1.25" />
<line x1="356.4" y1="340.7" x2="356.4" y2="347.1" stroke="#333" stroke-width="1.25" />
<path d="M322.2 345.5 C323.6 349.9 329.5 350.5 332.5 350.5" fill="none" stroke="#2a2a2a" stroke-width="0.95"/>
<path d="M354.8 345.5 C353.4 349.9 347.5 350.5 344.5 350.5" fill="none" stroke="#2a2a2a" stroke-width="0.95"/>
<text font-size="11" fill="#111"><tspan x="287.9" y="265.9" style="stroke-width:0.38px">λ</tspan><tspan x="294.8" y="268.5" font-size="6.5" font-style="italic">h</tspan><tspan x="300.2" y="266.5" font-size="12.5">(</tspan><tspan x="305.8" y="265.9" font-style="italic">t</tspan><tspan x="310.1" y="266.5" font-size="12.5">)</tspan></text>
<text x="410.8" y="258.4" font-size="10.4" text-anchor="middle" fill="#111">Hybrid maintainable</text>
<text x="411.3" y="267.8" font-size="10.4" text-anchor="middle" fill="#111">failure mode</text>
<text x="314.3" y="389.2" font-size="10.5" fill="#111"><tspan font-style="italic">1x</tspan></text>
<text x="351.2" y="389.2" font-size="10.5" fill="#111"><tspan font-style="italic">2x</tspan></text>
<text x="387.2" y="389.2" font-size="10.5" fill="#111"><tspan font-style="italic">3x</tspan></text>
<text x="442.6" y="389.2" font-size="10.5" fill="#111"><tspan font-style="italic">kx</tspan></text>
<text x="469.3" y="389.2" font-size="10.5" fill="#111">(<tspan font-style="italic">k</tspan>+1)<tspan font-style="italic">x</tspan></text>
<text x="512.6" y="389.2" font-size="10.5" fill="#111"><tspan font-style="italic">T</tspan><tspan font-style="italic" font-size="7.3" dy="2">L</tspan><tspan dy="-2">=</tspan><tspan font-style="italic">Nx</tspan></text>
<text x="316.2" y="290.3" font-size="15" fill="#111">∫</text>
<text x="321.1" y="281.7" font-size="5.8" fill="#111"><tspan font-style="italic">kx</tspan></text>
<text x="319.1" y="294.7" font-size="6.0" fill="#111">(<tspan font-style="italic">k</tspan>−1)<tspan font-style="italic">x</tspan></text>
<text x="338.3" y="290.3" font-size="10" fill="#111">λ</text>
<text x="343.8" y="292.5" font-size="6.2" font-style="italic" fill="#111">o</text>
<text x="348.2" y="290.3" font-size="10" fill="#111">(</text>
<text x="351.5" y="290.3" font-size="10" font-style="italic" fill="#111">t</text>
<text x="355.2" y="290.3" font-size="10" fill="#111">)</text>
<text x="357.8" y="290.3" font-size="10" font-style="italic" fill="#111">dt</text>
<text x="369.3" y="289.8" font-size="10" fill="#111">+</text>
<text x="378.4" y="290.3" font-size="15" fill="#111">∫</text>
<text x="381.8" y="281.2" font-size="6.3" fill="#111">((<tspan font-style="italic">k</tspan>−1)(1−δ)+1)<tspan font-style="italic">x</tspan></text>
<text x="381.5" y="294" font-size="6.3" fill="#111">(<tspan font-style="italic">k</tspan>−1)(1−δ)<tspan font-style="italic">x</tspan></text>
<text x="426" y="290.3" font-size="10" fill="#111">λ</text>
<text x="432.2" y="292.5" font-size="6.2" font-style="italic" fill="#111">p</text>
<text x="437.1" y="290.3" font-size="10" fill="#111">(</text>
<text x="440.4" y="290.3" font-size="10" font-style="italic" fill="#111">t</text>
<text x="443.5" y="290.3" font-size="10" fill="#111">)</text>
<text x="446.9" y="290.3" font-size="10" font-style="italic" fill="#111">dt</text>
<line x1="380" y1="299.5" x2="468.7" y2="340.7" stroke="#222" stroke-width="0.95" />
<line x1="468.7" y1="340.7" x2="466.42" y2="337.06" stroke="#222" stroke-width="0.95" />
<line x1="468.7" y1="340.7" x2="464.44" y2="341.3" stroke="#222" stroke-width="0.95" />
</svg>
</body></html>
